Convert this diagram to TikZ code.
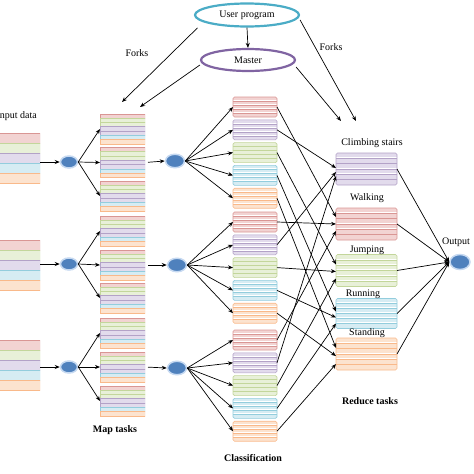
\documentclass[tikz,border=0pt]{standalone}
\usepackage{fontspec}
\setmainfont{Liberation Serif}
\usetikzlibrary{arrows.meta,calc,shapes.geometric}
\definecolor{pinkF}{HTML}{F2D3D2}\definecolor{pinkD}{HTML}{D99694}
\definecolor{lavF}{HTML}{E2DBEC}\definecolor{lavD}{HTML}{B3A2C7}
\definecolor{greenF}{HTML}{E8F0D8}\definecolor{greenD}{HTML}{C3D69B}
\definecolor{blueF}{HTML}{D6ECF3}\definecolor{blueD}{HTML}{93CDDD}
\definecolor{orF}{HTML}{FCE3CF}\definecolor{orD}{HTML}{F9B98A}
\definecolor{ovalB}{HTML}{4F81BD}\definecolor{ovalH}{HTML}{C6D9F1}
\definecolor{tealE}{HTML}{4BACC6}\definecolor{purE}{HTML}{8064A2}
\tikzset{
  arr/.style={-{Stealth[length=5pt,width=4pt]}, line width=0.7pt, black},
  cls/.style n args={3}{draw=#2, fill=#1, line width=0.6pt, rounded corners=1.5pt,
    minimum width=44pt, minimum height=20pt, inner sep=0pt, outer sep=0pt,
    path picture={
      \path (path picture bounding box.north west) coordinate (pNW)
            (path picture bounding box.south east) coordinate (pSE);
      \foreach \k in {1,...,#3}{
        \draw[white, line width=1pt] ($(pNW)!{(\k-0.12)/(#3+1)}!(pNW|-pSE)$) -- ($(pNW-|pSE)!{(\k-0.12)/(#3+1)}!(pSE)$);
        \draw[#2, line width=0.45pt] ($(pNW)!{\k/(#3+1)}!(pNW|-pSE)$) -- ($(pNW-|pSE)!{\k/(#3+1)}!(pSE)$);
      }}},
  mstripe/.style 2 args={inner sep=0pt, outer sep=0pt, fill=white,
    path picture={
      \path (path picture bounding box.north west) coordinate (pNW)
            (path picture bounding box.south east) coordinate (pSE);
      \foreach \f/\d [count=\i from 0] in {#2}{
        \filldraw[fill=\f, draw=\d, line width=0.8pt] ($(pNW)!{\i/#1}!(pNW|-pSE)$) rectangle ($(pNW-|pSE)!{(\i+1)/#1}!(pSE)$);
      }}},
  inblk/.style={mstripe={5}{pinkF/pinkD,greenF/greenD,lavF/lavD,blueF/blueD,orF/orD}, minimum width=55pt, minimum height=50pt},
  mapblk/.style={mstripe={7}{pinkF/pinkD,greenF/greenD,greenF/greenD,lavF/lavD,lavF/lavD,blueF/blueD,orF/orD}, minimum width=45pt, minimum height=30pt},
  ov/.style={ellipse, fill=ovalB, draw=ovalH, line width=1.5pt, inner sep=0pt, minimum width=17pt, minimum height=12pt},
  lbl/.style={font=\fontsize{10}{12}\selectfont, inner sep=1pt},
  blbl/.style={font=\fontsize{10}{12}\selectfont\bfseries, inner sep=1pt},
}
\begin{document}
\begin{tikzpicture}[x=1pt,y=-1pt]
\useasboundingbox (0,0) rectangle (474,474);
\clip (0,0) rectangle (474,474);

% top ellipses
\node[ellipse, draw=tealE, line width=2.2pt, fill=white, minimum width=104pt, minimum height=23pt, inner sep=0pt, lbl] (up) at (247,15) {User program};
\node[ellipse, draw=purE, line width=2.2pt, fill=white, minimum width=94pt, minimum height=22pt, inner sep=0pt, lbl] (ms) at (248,60) {Master};
\node[lbl] (fk1) at (137,53) {Forks};
\node[lbl] (fk2) at (331,47) {Forks};
\coordinate (f1) at (122,102);
\coordinate (f2) at (140,107);
\coordinate (f3) at (341,121);
\coordinate (f4) at (356,121);

% input data
\node[lbl, anchor=east] (indata) at (38,116) {Input data};
\node[inblk] (in1) at (12.5,158) {};
\node[inblk] (in2) at (12.5,265) {};
\node[inblk] (in3) at (12.5,365) {};

% first ovals
\node[ov] (a1) at (69,162) {};
\node[ov] (a2) at (69,264) {};
\node[ov] (a3) at (69,367) {};

% map tasks
\node[mapblk] (m1) at (122.5,129) {};
\node[mapblk] (m2) at (122.5,162.5) {};
\node[mapblk] (m3) at (122.5,196) {};
\node[mapblk] (m4) at (122.5,231) {};
\node[mapblk] (m5) at (122.5,265) {};
\node[mapblk] (m6) at (122.5,298) {};
\node[mapblk] (m7) at (122.5,333) {};
\node[mapblk] (m8) at (122.5,367) {};
\node[mapblk] (m9) at (122.5,401) {};
\node[blbl] (maplbl) at (115,430) {Map tasks};

% second ovals
\node[ov, minimum width=19pt, minimum height=13.5pt] (b1) at (175,161) {};
\node[ov, minimum width=19pt, minimum height=13.5pt] (b2) at (177,265) {};
\node[ov, minimum width=19pt, minimum height=13.5pt] (b3) at (177,368) {};

% classification
\node[cls={pinkF}{pinkD}{4}]   (c1)  at (255,107) {};
\node[cls={lavF}{lavD}{4}]     (c2)  at (255,129.8) {};
\node[cls={greenF}{greenD}{4}] (c3)  at (255,152.6) {};
\node[cls={blueF}{blueD}{4}]   (c4)  at (255,175.4) {};
\node[cls={orF}{orD}{4}]       (c5)  at (255,198.2) {};
\node[cls={pinkF}{pinkD}{4}]   (c6)  at (255,222) {};
\node[cls={lavF}{lavD}{4}]     (c7)  at (255,244.8) {};
\node[cls={greenF}{greenD}{4}] (c8)  at (255,267.6) {};
\node[cls={blueF}{blueD}{4}]   (c9)  at (255,290.4) {};
\node[cls={orF}{orD}{4}]       (c10) at (255,313.2) {};
\node[cls={pinkF}{pinkD}{4}]   (c11) at (255,340) {};
\node[cls={lavF}{lavD}{4}]     (c12) at (255,362.8) {};
\node[cls={greenF}{greenD}{4}] (c13) at (255,385.6) {};
\node[cls={blueF}{blueD}{4}]   (c14) at (255,408.4) {};
\node[cls={orF}{orD}{4}]       (c15) at (255,431.2) {};
\node[blbl] (clslbl) at (253,458) {Classification};

% reduce tasks
\node[cls={lavF}{lavD}{5}, minimum width=61pt, minimum height=32pt]     (r1) at (366.5,169) {};
\node[cls={pinkF}{pinkD}{5}, minimum width=61pt, minimum height=32pt]   (r2) at (366.5,224) {};
\node[cls={greenF}{greenD}{5}, minimum width=61pt, minimum height=32pt] (r3) at (366.5,270.5) {};
\node[cls={blueF}{blueD}{5}, minimum width=61pt, minimum height=30pt]   (r4) at (366.5,313.5) {};
\node[cls={orF}{orD}{5}, minimum width=61pt, minimum height=32pt]       (r5) at (366.5,354) {};
\node[lbl] (r1l) at (372,143) {Climbing stairs};
\node[lbl] (r2l) at (367,198) {Walking};
\node[lbl] (r3l) at (367,250) {Jumping};
\node[lbl] (r4l) at (363,294) {Running};
\node[lbl] (r5l) at (367,333) {Standing};
\node[blbl] (redlbl) at (370,401) {Reduce tasks};

% output
\node[ov, minimum width=20pt, minimum height=15pt] (out) at (460,262) {};
\node[lbl] (outl) at (456,242) {Output};

% ---- connectors ----
\draw[arr] (up.south) -- (ms.north);
\draw[arr] ([xshift=-12pt,yshift=-4pt]up.south west) -- (f1);
\draw[arr] ([yshift=-5pt]ms.west) -- (f2);
\draw[arr] ([yshift=-5pt]up.east) -- (f4);
\draw[arr] ([yshift=-7pt]ms.east) -- (f3);

\draw[arr] (in1.east |- a1) -- (a1.west);
\draw[arr] (in2.east |- a2) -- (a2.west);
\draw[arr] (in3.east |- a3) -- (a3.west);

\foreach \m in {m1,m2,m3} \draw[arr] (a1.east) -- (\m.west);
\foreach \m in {m4,m5,m6} \draw[arr] (a2.east) -- (\m.west);
\foreach \m in {m7,m8,m9} \draw[arr] (a3.east) -- (\m.west);

\draw[arr, shorten <=3pt] (m2.east) -- (b1.west);
\draw[arr, shorten <=3pt] (m5.east) -- (b2.west);
\draw[arr, shorten <=3pt] (m8.east) -- (b3.west);

\foreach \c in {c1,c2,c3,c4,c5} \draw[arr] (b1.east) -- (\c.west);
\foreach \c in {c6,c7,c8,c9,c10} \draw[arr] (b2.east) -- (\c.west);
\foreach \c in {c11,c12,c13,c14,c15} \draw[arr] (b3.east) -- (\c.west);

% classification -> reduce
\draw[arr] (c1.east) -- ([yshift=7pt]r2.west);
\draw[arr] (c2.east) -- ([yshift=1pt]r1.west);
\draw[arr] (c3.east) -- ([yshift=6pt]r3.west);
\draw[arr] (c4.east) -- ([yshift=2pt]r4.west);
\draw[arr] (c5.east) -- ([yshift=6pt]r5.west);
\draw[arr] (c6.east) -- ([yshift=0pt]r2.west);
\draw[arr] (c7.east) -- ([yshift=-3pt]r1.west);
\draw[arr] (c8.east) -- ([yshift=-1pt]r3.west);
\draw[arr] (c9.east) -- ([yshift=-4pt]r4.west);
\draw[arr] (c10.east) -- ([yshift=-2pt]r5.west);
\draw[arr] (c11.east) -- ([yshift=-7pt]r2.west);
\draw[arr] (c12.east) -- ([yshift=-7pt]r1.west);
\draw[arr] (c13.east) -- ([yshift=-8pt]r3.west);
\draw[arr] (c14.east) -- ([yshift=-10pt]r4.west);
\draw[arr] (c15.east) -- ([yshift=-10pt]r5.west);

\foreach \r in {r1,r2,r3,r4,r5} \draw[arr] (\r.east) -- (out.west);
\end{tikzpicture}
\end{document}
